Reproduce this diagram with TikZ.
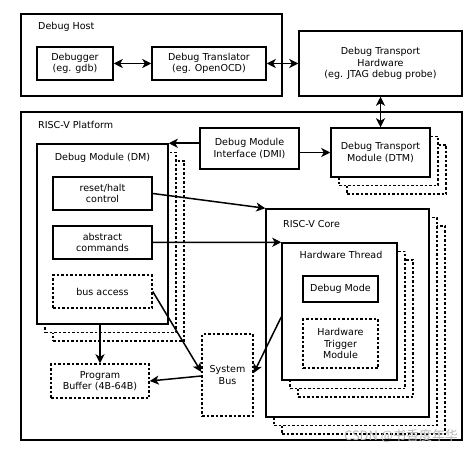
\documentclass[tikz,border=0pt]{standalone}
\usepackage{fontspec}
\setmainfont{DejaVu Sans}
\newfontfamily\cjkfont{Noto Sans CJK SC}
\usetikzlibrary{arrows.meta,calc}
\tikzset{
  box/.style={draw, line width=1.5bp, fill=white, inner sep=0pt, align=center,
    font=\fontsize{9.6}{11.6}\selectfont},
  dotbox/.style={box, dash pattern=on 2.5bp off 2bp},
  shadowline/.style={draw, fill=white, line width=1.5bp, dash pattern=on 2.5bp off 2bp},
  shadowed/.style={
    preaction={shadowline, transform canvas={shift={(16bp,-17bp)}}},
    preaction={shadowline, transform canvas={shift={(8bp,-8.5bp)}}}},
  lbl/.style={inner sep=0pt, font=\fontsize{9.6}{11.6}\selectfont},
  tip/.tip={Stealth[length=9bp,width=9bp,inset=2.5bp]},
  conn/.style={line width=1.5bp, -tip},
  biconn/.style={line width=1.5bp, tip-tip},
}
\begin{document}
\begin{tikzpicture}[x=1bp,y=-1bp]
\useasboundingbox (0,0) rectangle (474,452);

% Debug host
\node[box, minimum width=261bp, minimum height=82bp] (host) at (151.5,55) {};
\node[lbl, anchor=west] (hostlbl) at (38,27) {Debug Host};
\node[box, minimum width=76bp, minimum height=33bp] (dbg) at (75,63.5) {Debugger\\(eg. gdb)};
\node[box, minimum width=114bp, minimum height=33bp] (tr) at (209,63.5) {Debug Translator\\(eg. OpenOCD)};
\node[box, minimum width=163bp, minimum height=65bp] (dth) at (380.5,63.5) {Debug Transport\\Hardware\\(eg. JTAG debug probe)};

% Platform
\node[box, minimum width=441bp, minimum height=328bp] (plat) at (241.5,276) {};
\node[lbl, anchor=west] (platlbl) at (38,125) {RISC-V Platform};

\node[box, shadowed, minimum width=99bp, minimum height=49bp] (dtm) at (380.5,152.5) {Debug Transport\\Module (DTM)};
\node[box, minimum width=99bp, minimum height=41bp] (dmi) at (249.5,148.5) {Debug Module\\Interface (DMI)};

% Debug module
\node[box, shadowed, minimum width=131bp, minimum height=180bp] (dm) at (102.5,234) {};
\node[lbl] (dmlbl) at (102.5,158) {Debug Module (DM)};
\node[box, minimum width=99bp, minimum height=33bp] (rh) at (102.5,193.5) {reset/halt\\control};
\node[box, minimum width=99bp, minimum height=33bp] (ac) at (102.5,242.5) {abstract\\commands};
\node[dotbox, minimum width=99bp, minimum height=33bp] (ba) at (102.5,291.5) {bus access};

\node[dotbox, minimum width=98bp, minimum height=34bp] (pb) at (100,381) {Program\\Buffer (4B-64B)};
\node[dotbox, minimum width=51bp, minimum height=82bp] (sb) at (227.5,375) {System\\Bus};

% Core
\node[box, shadowed, minimum width=163bp, minimum height=208bp] (core) at (347.5,313) {};
\node[lbl, anchor=west] (corelbl) at (283,224) {RISC-V Core};
\node[box, shadowed, minimum width=115bp, minimum height=137bp] (hwt) at (339.5,311.5) {};
\node[lbl] (hwtlbl) at (341,255) {Hardware Thread};
\node[box, minimum width=75bp, minimum height=26bp] (dmode) at (340.5,289) {Debug Mode};
\node[dotbox, minimum width=75bp, minimum height=49bp] (htm) at (340.5,343.5) {Hardware\\Trigger\\Module};

% Connectors
\draw[biconn] (dbg.east) -- (tr.west);
\draw[biconn] (tr.east) -- (dth.west |- tr.east);
\draw[biconn] (dth.south) -- (dtm.north);
\draw[conn] (dmi.east |- dtm.west) -- (dtm.west);
\draw[conn] (dmi.west |- dm.north east) -- (dm.north east);
\draw[conn] (rh.east) -- (core.north west);
\draw[conn] (ac.east) -- (hwt.north west);
\draw[conn] (pb.north |- dm.south) -- (pb.north);
\draw[conn] (ba.east) -- ($(sb.west)+(0,-3)$);
\draw[conn] ($(sb.west)+(0,1)$) -- (pb.east);
\draw[conn] ($(hwt.west)+(0,5.5)$) -- ($(sb.east)+(0,-2)$);

% watermark
\node[inner sep=0pt, text=gray!55, font=\cjkfont\fontsize{13}{15}\selectfont] (wm) at (401,436) {CSDN @书香度年华};
\end{tikzpicture}
\end{document}
